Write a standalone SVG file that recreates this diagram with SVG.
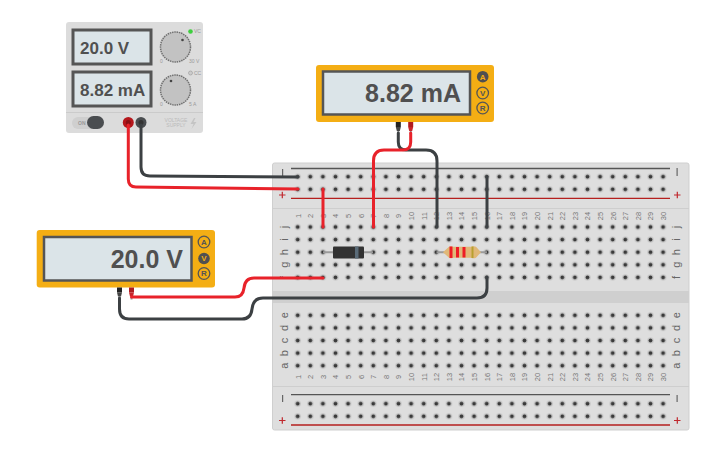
<svg xmlns="http://www.w3.org/2000/svg" xmlns:xlink="http://www.w3.org/1999/xlink" width="725" height="453" viewBox="0 0 725 453">
<style>
text{font-family:"Liberation Sans",Arial,sans-serif}
.num{font-size:7.5px;fill:#777;text-anchor:middle}
.let{font-size:11px;fill:#666;text-anchor:middle}
.read{font-size:25px;font-weight:bold;fill:#505050;text-anchor:end}
.psu{font-size:17px;font-weight:bold;fill:#505050}
.disp{fill:#dbe4e8;stroke:#555;stroke-width:3}
.meter{fill:#f4ae14}
.btn{fill:none;stroke:#555;stroke-width:1.3}
.btnon{fill:#505050}
.btxt{font-size:8px;font-weight:bold;text-anchor:middle;fill:#555}
.btxton{font-size:8px;font-weight:bold;text-anchor:middle;fill:#f4ae14}
.w{fill:none;stroke-linecap:round;stroke-linejoin:round;stroke-width:3}
.r{stroke:#e8222a}
.k{stroke:#3c4043}
.sm{font-size:5px;fill:#999}
</style>
<defs>
<pattern id="holes" patternUnits="userSpaceOnUse" x="291.4" y="170.4" width="12.6" height="12.6">
<circle cx="6.3" cy="6.3" r="3.2" fill="#c6c6c6"/><circle cx="6.3" cy="6.3" r="1.9" fill="#3a3a3a"/>
</pattern>
<pattern id="holes2" patternUnits="userSpaceOnUse" x="291.4" y="220.7" width="12.6" height="12.6">
<circle cx="6.3" cy="6.3" r="3.2" fill="#c6c6c6"/><circle cx="6.3" cy="6.3" r="1.9" fill="#3a3a3a"/>
</pattern>
<pattern id="holes3" patternUnits="userSpaceOnUse" x="291.4" y="309" width="12.6" height="12.6">
<circle cx="6.3" cy="6.3" r="3.2" fill="#c6c6c6"/><circle cx="6.3" cy="6.3" r="1.9" fill="#3a3a3a"/>
</pattern>
<pattern id="holes4" patternUnits="userSpaceOnUse" x="291.4" y="397.4" width="12.6" height="12.6">
<circle cx="6.3" cy="6.3" r="3.2" fill="#c6c6c6"/><circle cx="6.3" cy="6.3" r="1.9" fill="#3a3a3a"/>
</pattern>
<g id="probeK"><rect x="-2.5" y="0" width="5" height="5" fill="#222"/><path d="M-2.5 5h5l-1 4h-3z" fill="#444"/><rect x="-1" y="9" width="2" height="3" fill="#999"/></g>
<g id="probeR"><rect x="-2.5" y="0" width="5" height="5" fill="#b01c20"/><path d="M-2.5 5h5l-1 4h-3z" fill="#c8242a"/><rect x="-1" y="9" width="2" height="3" fill="#999"/></g>
</defs>
<rect width="725" height="453" fill="#fff"/>

<g id="breadboard">
<rect x="272.5" y="163" width="416.5" height="267" rx="2" fill="#dedede" stroke="#cfcfcf"/>
<rect x="273" y="291" width="416" height="12" fill="#cfcfcf"/>
<path d="M273 208.500H689M273 386.500H689" stroke="#cecece" fill="none"/>
<path d="M291 168.500H670M291 394.700H670" stroke="#555" stroke-width="1.300" fill="none"/>
<path d="M291 198.300H670M291 425H670" stroke="#b5201f" stroke-width="1.300" fill="none"/>
<rect x="291.400" y="170.400" width="378" height="25.200" fill="url(#holes)"/>
<rect x="291.400" y="220.700" width="378" height="63" fill="url(#holes2)"/>
<rect x="291.400" y="309" width="378" height="63" fill="url(#holes3)"/>
<rect x="291.400" y="397.400" width="378" height="25.200" fill="url(#holes4)"/>
<path d="M282 169h1.200v8H282zM676.500 168h1.200v8H676.500zM282 395h1.200v7H282zM676.500 395h1.200v7H676.500z" fill="#666"/>
<path d="M279 195h6.500M282.300 191.700v6.500M674 195h6.500M677.300 191.700v6.500M279 420.500h6.500M282.300 417.200v6.500M674 420.500h6.500M677.300 417.200v6.500" stroke="#c0272d" stroke-width="1.200" fill="none"/>
<g class="num">
<text transform="translate(300.500,216) rotate(-90)">1</text><text transform="translate(313.100,216) rotate(-90)">2</text><text transform="translate(325.700,216) rotate(-90)">3</text><text transform="translate(338.300,216) rotate(-90)">4</text><text transform="translate(350.900,216) rotate(-90)">5</text><text transform="translate(363.500,216) rotate(-90)">6</text><text transform="translate(376.100,216) rotate(-90)">7</text><text transform="translate(388.700,216) rotate(-90)">8</text><text transform="translate(401.300,216) rotate(-90)">9</text><text transform="translate(413.900,216) rotate(-90)">10</text><text transform="translate(426.500,216) rotate(-90)">11</text><text transform="translate(439.100,216) rotate(-90)">12</text><text transform="translate(451.700,216) rotate(-90)">13</text><text transform="translate(464.300,216) rotate(-90)">14</text><text transform="translate(476.900,216) rotate(-90)">15</text><text transform="translate(489.500,216) rotate(-90)">16</text><text transform="translate(502.100,216) rotate(-90)">17</text><text transform="translate(514.700,216) rotate(-90)">18</text><text transform="translate(527.300,216) rotate(-90)">19</text><text transform="translate(539.900,216) rotate(-90)">20</text><text transform="translate(552.500,216) rotate(-90)">21</text><text transform="translate(565.100,216) rotate(-90)">22</text><text transform="translate(577.700,216) rotate(-90)">23</text><text transform="translate(590.300,216) rotate(-90)">24</text><text transform="translate(602.900,216) rotate(-90)">25</text><text transform="translate(615.500,216) rotate(-90)">26</text><text transform="translate(628.100,216) rotate(-90)">27</text><text transform="translate(640.700,216) rotate(-90)">28</text><text transform="translate(653.300,216) rotate(-90)">29</text><text transform="translate(665.900,216) rotate(-90)">30</text>
<text transform="translate(300.500,377) rotate(-90)">1</text><text transform="translate(313.100,377) rotate(-90)">2</text><text transform="translate(325.700,377) rotate(-90)">3</text><text transform="translate(338.300,377) rotate(-90)">4</text><text transform="translate(350.900,377) rotate(-90)">5</text><text transform="translate(363.500,377) rotate(-90)">6</text><text transform="translate(376.100,377) rotate(-90)">7</text><text transform="translate(388.700,377) rotate(-90)">8</text><text transform="translate(401.300,377) rotate(-90)">9</text><text transform="translate(413.900,377) rotate(-90)">10</text><text transform="translate(426.500,377) rotate(-90)">11</text><text transform="translate(439.100,377) rotate(-90)">12</text><text transform="translate(451.700,377) rotate(-90)">13</text><text transform="translate(464.300,377) rotate(-90)">14</text><text transform="translate(476.900,377) rotate(-90)">15</text><text transform="translate(489.500,377) rotate(-90)">16</text><text transform="translate(502.100,377) rotate(-90)">17</text><text transform="translate(514.700,377) rotate(-90)">18</text><text transform="translate(527.300,377) rotate(-90)">19</text><text transform="translate(539.900,377) rotate(-90)">20</text><text transform="translate(552.500,377) rotate(-90)">21</text><text transform="translate(565.100,377) rotate(-90)">22</text><text transform="translate(577.700,377) rotate(-90)">23</text><text transform="translate(590.300,377) rotate(-90)">24</text><text transform="translate(602.900,377) rotate(-90)">25</text><text transform="translate(615.500,377) rotate(-90)">26</text><text transform="translate(628.100,377) rotate(-90)">27</text><text transform="translate(640.700,377) rotate(-90)">28</text><text transform="translate(653.300,377) rotate(-90)">29</text><text transform="translate(665.900,377) rotate(-90)">30</text>
</g>
<g class="let">
<text transform="translate(288,227) rotate(-90)">j</text><text transform="translate(288,239.600) rotate(-90)">i</text><text transform="translate(288,252.200) rotate(-90)">h</text><text transform="translate(288,264.800) rotate(-90)">g</text><text transform="translate(288,277.400) rotate(-90)">f</text>
<text transform="translate(288,315.300) rotate(-90)">e</text><text transform="translate(288,327.900) rotate(-90)">d</text><text transform="translate(288,340.500) rotate(-90)">c</text><text transform="translate(288,353.100) rotate(-90)">b</text><text transform="translate(288,365.700) rotate(-90)">a</text>
<text transform="translate(680,227) rotate(-90)">j</text><text transform="translate(680,239.600) rotate(-90)">i</text><text transform="translate(680,252.200) rotate(-90)">h</text><text transform="translate(680,264.800) rotate(-90)">g</text><text transform="translate(680,277.400) rotate(-90)">f</text>
<text transform="translate(680,315.300) rotate(-90)">e</text><text transform="translate(680,327.900) rotate(-90)">d</text><text transform="translate(680,340.500) rotate(-90)">c</text><text transform="translate(680,353.100) rotate(-90)">b</text><text transform="translate(680,365.700) rotate(-90)">a</text>
</g>
</g>

<g id="power-supply">
<rect x="66" y="22" width="137" height="111" rx="3" fill="#dcdcdc"/>
<path d="M66 112.500H203" stroke="#cbcbcb" fill="none"/>
<rect x="73" y="30" width="78" height="34" class="disp"/>
<rect x="73" y="72" width="78" height="34" class="disp"/>
<text x="80" y="54" class="psu">20.0 V</text>
<text x="80" y="95.500" class="psu">8.82 mA</text>
<circle cx="175.500" cy="47" r="15" fill="#c2c2c2" stroke="#707070" stroke-width="1.500" stroke-dasharray="1.500 .8"/>
<circle cx="182.500" cy="40" r="1.300" fill="#444"/>
<circle cx="175.500" cy="90" r="15" fill="#c2c2c2" stroke="#707070" stroke-width="1.500" stroke-dasharray="1.500 .8"/>
<circle cx="171" cy="81" r="1.300" fill="#444"/>
<circle cx="190.500" cy="31.500" r="2.300" fill="#3ecf3e"/>
<circle cx="190.500" cy="73" r="2" fill="#ccc" stroke="#999" stroke-width=".6"/>
<text x="194" y="33" class="sm">VC</text><text x="194" y="75" class="sm">CC</text>
<text x="160" y="63" class="sm">0</text><text x="189" y="63" class="sm">30 V</text>
<text x="160" y="106" class="sm">0</text><text x="189" y="106" class="sm">5 A</text>
<rect x="72" y="117" width="32" height="12" rx="6" fill="#cfcfcf"/>
<rect x="87" y="116" width="17" height="13" rx="6.500" fill="#4a4d50"/>
<text x="78" y="125" class="sm" font-weight="bold">ON</text>
<circle cx="128.300" cy="122.500" r="5.500" fill="#b5171c"/>
<circle cx="128.300" cy="122.500" r="2.500" fill="#8a1014"/>
<circle cx="141" cy="122.500" r="5.500" fill="#4a4d50"/>
<circle cx="141" cy="122.500" r="2.500" fill="#333"/>
<text x="176" y="122" class="sm" text-anchor="middle" style="fill:#bbb">VOLTAGE</text>
<text x="176" y="127" class="sm" text-anchor="middle" style="fill:#bbb">SUPPLY</text>
<path d="M194 118l-3.500 6h3l-2 5 5-7h-3l2-4z" fill="#c4c4c4"/>
</g>

<g id="ammeter">
<rect x="316" y="65" width="178" height="57" rx="3" class="meter"/>
<rect x="323" y="71.500" width="147" height="43" class="disp" style="stroke-width:2.500"/>
<text x="461" y="102" class="read">8.82 mA</text>
<circle cx="482.700" cy="76.700" r="5.800" class="btnon"/><text x="482.700" y="79.500" class="btxton">A</text>
<circle cx="482.700" cy="93" r="5.800" class="btn"/><text x="482.700" y="95.800" class="btxt">V</text>
<circle cx="482.700" cy="108" r="5.800" class="btn"/><text x="482.700" y="110.800" class="btxt">R</text>
<use href="#probeK" x="398.300" y="122"/>
<use href="#probeR" x="410.700" y="122"/>
</g>

<g id="voltmeter">
<rect x="36.700" y="230" width="178.300" height="57.500" rx="3" class="meter"/>
<rect x="44" y="237" width="147.500" height="43.500" class="disp" style="stroke-width:2.500"/>
<text x="183" y="268" class="read">20.0 V</text>
<circle cx="204" cy="242" r="5.800" class="btn"/><text x="204" y="244.800" class="btxt">A</text>
<circle cx="204" cy="258.500" r="5.800" class="btnon"/><text x="204" y="261.300" class="btxton">V</text>
<circle cx="204" cy="273.500" r="5.800" class="btn"/><text x="204" y="276.300" class="btxt">R</text>
<use href="#probeK" x="119.500" y="287.500"/>
<use href="#probeR" x="131.500" y="287.500"/>
</g>

<g id="diode">
<path d="M323 252.200H373" stroke="#9a9a9a" stroke-width="2" fill="none"/>
<rect x="333" y="246.500" width="31" height="12" rx="1" fill="#333"/>
<rect x="355" y="246.500" width="3.500" height="12" fill="#5a6b78"/>
</g>

<g id="resistor">
<path d="M436.500 252.200H487" stroke="#9a9a9a" stroke-width="2" fill="none"/>
<path d="M443 252.200l6-5.500q2-1 4 0h18q3-1 5 0l5 5.500-5 5.500q-2 1-5 0h-18q-2 1-4 0z" fill="#e0b878"/>
<path d="M451 246.500v11.500M457.500 247v10.500M464 247v10.500" stroke="#ee1c25" stroke-width="3" fill="none"/>
<path d="M472.500 246.500v11.500" stroke="#b8a030" stroke-width="2" fill="none"/>
</g>

<g id="connectors">
<path class="w r" d="M128.300 125V179Q128.300 187 136 187L298 189"/>
<path class="w k" d="M141 125V167Q141 176 150 176L298 177"/>
<path class="w k" d="M398.300 133V142Q398.300 150 406 150H426Q437 150 437 161V227"/>
<path class="w r" d="M410.700 133V142Q410.700 150 403 150H384Q373.500 150 373.500 161V227"/>
<path class="w r" d="M323 189V227"/>
<path class="w k" d="M487 176.500V227"/>
<path class="w r" d="M131.500 297H235Q243 297 244 288Q245 278 254 278H323"/>
<path class="w k" d="M119.500 298V309Q119.500 319 129 319H242Q251 319 252 309Q253 298 263 298H477Q487 298 487 288V277"/>
</g>
</svg>
